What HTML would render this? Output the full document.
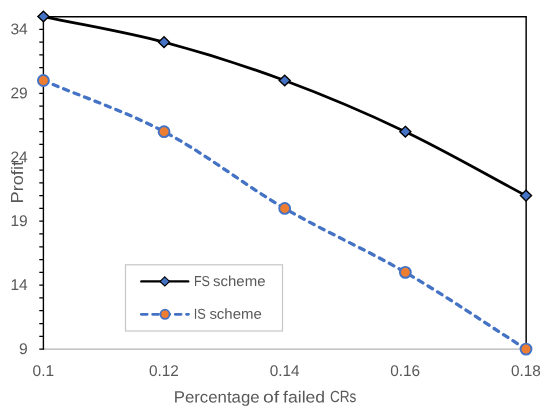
<!DOCTYPE html>
<html><head><meta charset="utf-8"><title>Profit vs Percentage of failed CRs</title>
<style>html,body{margin:0;padding:0;background:#fff}svg{display:block}</style></head>
<body>
<svg width="550" height="414" viewBox="0 0 550 414" font-family="'Liberation Sans', sans-serif" fill="#595959">
<rect width="550" height="414" fill="#fff"/>
<line x1="43.4" y1="349.1" x2="526.0" y2="349.1" stroke="#b4b4b4" stroke-width="1.4"/>
<path d="M43.4 16.75 H526.15 V349.1" fill="none" stroke="#000" stroke-width="1.45"/>
<path d="M43.4 16.5 V349.8" fill="none" stroke="#000" stroke-width="1.4"/>
<path d="M39.3 349.10 H43.4M39.3 336.31 H43.4M39.3 323.52 H43.4M39.3 310.73 H43.4M39.3 297.94 H43.4M39.3 285.15 H43.4M39.3 272.36 H43.4M39.3 259.57 H43.4M39.3 246.78 H43.4M39.3 233.99 H43.4M39.3 221.20 H43.4M39.3 208.41 H43.4M39.3 195.62 H43.4M39.3 182.83 H43.4M39.3 170.04 H43.4M39.3 157.25 H43.4M39.3 144.46 H43.4M39.3 131.67 H43.4M39.3 118.88 H43.4M39.3 106.09 H43.4M39.3 93.30 H43.4M39.3 80.51 H43.4M39.3 67.72 H43.4M39.3 54.93 H43.4M39.3 42.14 H43.4M39.3 29.35 H43.4M39.3 16.56 H43.4" fill="none" stroke="#000" stroke-width="1.25"/>
<text transform="translate(27.7 354.00) rotate(0.05)" font-size="15.5" text-anchor="end" textLength="8.7" lengthAdjust="spacingAndGlyphs">9</text>
<text transform="translate(27.7 290.05) rotate(0.05)" font-size="15.5" text-anchor="end" textLength="17.3" lengthAdjust="spacingAndGlyphs">14</text>
<text transform="translate(27.7 226.10) rotate(0.05)" font-size="15.5" text-anchor="end" textLength="17.3" lengthAdjust="spacingAndGlyphs">19</text>
<text transform="translate(27.7 162.15) rotate(0.05)" font-size="15.5" text-anchor="end" textLength="17.3" lengthAdjust="spacingAndGlyphs">24</text>
<text transform="translate(27.7 98.20) rotate(0.05)" font-size="15.5" text-anchor="end" textLength="17.3" lengthAdjust="spacingAndGlyphs">29</text>
<text transform="translate(27.7 34.25) rotate(0.05)" font-size="15.5" text-anchor="end" textLength="17.3" lengthAdjust="spacingAndGlyphs">34</text>
<text transform="translate(43.3 376.05) rotate(0.05)" font-size="15.5" text-anchor="middle" textLength="21.5" lengthAdjust="spacingAndGlyphs">0.1</text>
<text transform="translate(163.9 376.05) rotate(0.05)" font-size="15.5" text-anchor="middle" textLength="29.9" lengthAdjust="spacingAndGlyphs">0.12</text>
<text transform="translate(284.6 376.05) rotate(0.05)" font-size="15.5" text-anchor="middle" textLength="29.9" lengthAdjust="spacingAndGlyphs">0.14</text>
<text transform="translate(405.2 376.05) rotate(0.05)" font-size="15.5" text-anchor="middle" textLength="29.9" lengthAdjust="spacingAndGlyphs">0.16</text>
<text transform="translate(525.9 376.05) rotate(0.05)" font-size="15.5" text-anchor="middle" textLength="29.9" lengthAdjust="spacingAndGlyphs">0.18</text>
<text transform="translate(173.7 402.4) rotate(0.03)" font-size="16.2"><tspan x="0" textLength="85.9" lengthAdjust="spacingAndGlyphs">Percentage</tspan> <tspan x="89.2" textLength="16.2" lengthAdjust="spacingAndGlyphs">of</tspan> <tspan x="109.4" textLength="42" lengthAdjust="spacingAndGlyphs">failed</tspan> <tspan x="156.3" textLength="26.4" lengthAdjust="spacingAndGlyphs">CRs</tspan></text>
<text transform="translate(22.6 203.4) rotate(-90)" font-size="16.2" textLength="42.4" lengthAdjust="spacingAndGlyphs">Profit</text>
<path d="M43.40 80.51 C83.62 97.56 125.59 111.28 164.05 131.67 C206.02 153.92 243.56 184.42 284.70 208.41 C323.99 231.32 366.06 249.45 405.35 272.36 C446.49 296.35 485.78 323.52 526.00 349.10" fill="none" stroke="#4472C4" stroke-width="3.3" stroke-linecap="round" stroke-dasharray="5.2 6.025" stroke-dashoffset="0.6"/>
<path d="M43.40 16.56 C83.62 25.09 124.36 31.62 164.05 42.14 C204.79 52.94 245.18 65.85 284.70 80.51 C325.61 95.69 365.96 112.88 405.35 131.67 C446.39 151.25 485.78 174.30 526.00 195.62" fill="none" stroke="#000" stroke-width="2.75" stroke-linecap="round"/>
<circle cx="43.40" cy="80.51" r="5.45" fill="#ED7D31" stroke="#4472C4" stroke-width="1.9"/>
<circle cx="164.05" cy="131.67" r="5.45" fill="#ED7D31" stroke="#4472C4" stroke-width="1.9"/>
<circle cx="284.70" cy="208.41" r="5.45" fill="#ED7D31" stroke="#4472C4" stroke-width="1.9"/>
<circle cx="405.35" cy="272.36" r="5.45" fill="#ED7D31" stroke="#4472C4" stroke-width="1.9"/>
<circle cx="526.00" cy="349.10" r="5.45" fill="#ED7D31" stroke="#4472C4" stroke-width="1.9"/>
<path d="M43.40 11.26 l5.50 5.30 l-5.50 5.30 l-5.50 -5.30 z" fill="#4472C4" stroke="#000" stroke-width="1.4"/>
<path d="M164.05 36.84 l5.50 5.30 l-5.50 5.30 l-5.50 -5.30 z" fill="#4472C4" stroke="#000" stroke-width="1.4"/>
<path d="M284.70 75.21 l5.50 5.30 l-5.50 5.30 l-5.50 -5.30 z" fill="#4472C4" stroke="#000" stroke-width="1.4"/>
<path d="M405.35 126.37 l5.50 5.30 l-5.50 5.30 l-5.50 -5.30 z" fill="#4472C4" stroke="#000" stroke-width="1.4"/>
<path d="M526.00 190.32 l5.50 5.30 l-5.50 5.30 l-5.50 -5.30 z" fill="#4472C4" stroke="#000" stroke-width="1.4"/>
<rect x="125.5" y="264.8" width="157" height="66.2" fill="#fff" stroke="#c6c6c6" stroke-width="1.2"/>
<line x1="141.4" y1="281.4" x2="188.2" y2="281.4" stroke="#000" stroke-width="2.4" stroke-linecap="round"/>
<path d="M164.8 276.80 l4.80 4.60 l-4.80 4.60 l-4.80 -4.60 z" fill="#4472C4" stroke="#000" stroke-width="1.1"/>
<line x1="141.35" y1="314.35" x2="188.45" y2="314.35" stroke="#4472C4" stroke-width="2.9" stroke-linecap="round" stroke-dasharray="5.8 5.5"/>
<circle cx="165" cy="314.3" r="4.6" fill="#ED7D31" stroke="#4472C4" stroke-width="1.8"/>
<text transform="translate(193.9 285.95) rotate(0.05)" font-size="14.5"><tspan x="0" textLength="16" lengthAdjust="spacingAndGlyphs">FS</tspan> <tspan x="19.2" textLength="52.4" lengthAdjust="spacingAndGlyphs">scheme</tspan></text>
<text transform="translate(193.8 318.8) rotate(0.05)" font-size="14.5"><tspan x="0" textLength="12.1" lengthAdjust="spacingAndGlyphs">IS</tspan> <tspan x="15.6" textLength="52.4" lengthAdjust="spacingAndGlyphs">scheme</tspan></text>
</svg>
</body></html>
